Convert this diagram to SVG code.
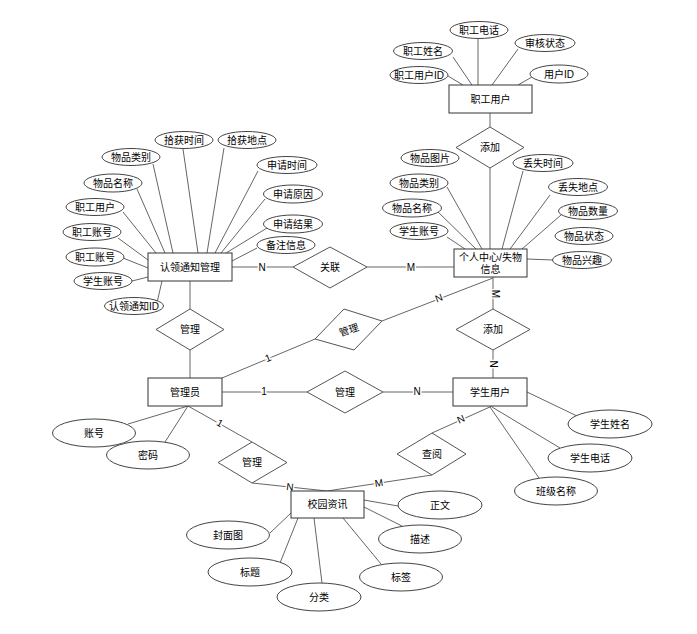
<svg xmlns="http://www.w3.org/2000/svg" width="697" height="634" viewBox="0 0 697 634">
<style>
text{font-family:"Liberation Sans","Noto Sans CJK SC",sans-serif;font-size:10px;fill:#000;text-anchor:middle;dominant-baseline:central}
.e{fill:#fff;stroke:#444;stroke-width:1}
.r{fill:#fff;stroke:#333;stroke-width:1}
.d{fill:#fff;stroke:#555;stroke-width:1}
.c line,.c polyline{stroke:#666;stroke-width:1;fill:none}
.lb{paint-order:stroke;stroke:#fff;stroke-width:3px}
</style>
<rect width="697" height="634" fill="#fff"/>
<g class="c">
<line x1="478" y1="39" x2="478" y2="85"/>
<line x1="518" y1="49" x2="492" y2="85"/>
<line x1="453" y1="57" x2="472" y2="85"/>
<line x1="448" y1="76" x2="463" y2="85"/>
<line x1="532" y1="77" x2="518" y2="85"/>
<line x1="490" y1="113" x2="490" y2="127"/>
<line x1="490" y1="168" x2="490" y2="249"/>
<line x1="447" y1="187" x2="482" y2="249"/>
<line x1="438" y1="212" x2="476" y2="249"/>
<line x1="447" y1="237" x2="465" y2="249"/>
<line x1="523" y1="171" x2="502" y2="249"/>
<line x1="550" y1="195" x2="510" y2="249"/>
<line x1="561" y1="215" x2="522" y2="249"/>
<line x1="553" y1="260" x2="527" y2="259"/>
<line x1="183" y1="149" x2="198" y2="253"/>
<line x1="224" y1="148" x2="207" y2="253"/>
<line x1="153" y1="164" x2="173" y2="253"/>
<line x1="137" y1="189" x2="165" y2="253"/>
<line x1="123" y1="212" x2="156" y2="253"/>
<line x1="118" y1="238" x2="148" y2="260"/>
<line x1="123" y1="258" x2="148" y2="268"/>
<line x1="132" y1="281" x2="148" y2="277"/>
<line x1="156" y1="307" x2="162" y2="281"/>
<line x1="258" y1="171" x2="215" y2="253"/>
<line x1="265" y1="199" x2="221" y2="253"/>
<line x1="267" y1="228" x2="226" y2="253"/>
<line x1="257" y1="248" x2="232" y2="261"/>
<line x1="232" y1="267" x2="293" y2="267"/>
<line x1="367" y1="267" x2="454" y2="267"/>
<line x1="190" y1="281" x2="190" y2="309"/>
<line x1="190" y1="350" x2="190" y2="378"/>
<line x1="222" y1="378" x2="315" y2="339"/>
<line x1="382" y1="321" x2="493" y2="278"/>
<line x1="493" y1="277" x2="493" y2="309"/>
<line x1="493" y1="350" x2="493" y2="378"/>
<line x1="222" y1="392" x2="307" y2="392"/>
<line x1="383" y1="392" x2="453" y2="392"/>
<line x1="128" y1="424" x2="188" y2="406"/>
<line x1="165" y1="442" x2="188" y2="406"/>
<line x1="188" y1="406" x2="252" y2="442"/>
<line x1="252" y1="483" x2="327" y2="491"/>
<line x1="492" y1="406" x2="432" y2="433"/>
<line x1="432" y1="475" x2="327" y2="491"/>
<line x1="527" y1="392" x2="577" y2="416"/>
<line x1="492" y1="407" x2="560" y2="448"/>
<line x1="490" y1="407" x2="539" y2="478"/>
<line x1="364" y1="500" x2="398" y2="506"/>
<line x1="364" y1="507" x2="402" y2="526"/>
<line x1="343" y1="518" x2="381" y2="564"/>
<line x1="270" y1="533" x2="291" y2="513"/>
<line x1="280" y1="563" x2="298" y2="518"/>
<line x1="322" y1="583" x2="314" y2="518"/>
<text class="lb" x="262" y="267">N</text>
<text class="lb" x="411" y="267">M</text>
<text class="lb" x="268" y="358" transform="rotate(-23 268 358)">1</text>
<text class="lb" x="439" y="298" transform="rotate(-21 439 298)">N</text>
<text class="lb" x="495" y="294" transform="rotate(90 495 294)">M</text>
<text class="lb" x="493" y="364" transform="rotate(90 493 364)">N</text>
<text class="lb" x="264" y="391">1</text>
<text class="lb" x="417" y="391">N</text>
<text class="lb" x="220" y="423" transform="rotate(29 220 423)">1</text>
<text class="lb" x="290" y="487" transform="rotate(6 290 487)">N</text>
<text class="lb" x="461" y="419" transform="rotate(-24 461 419)">N</text>
<text class="lb" x="379" y="483" transform="rotate(-8 379 483)">M</text>
</g>
<g id="staff-user"><rect class="r" x="449" y="85" width="83" height="28"/><text x="490.5" y="99">职工用户</text></g>
<g id="a-staff-phone"><ellipse class="e" cx="479" cy="30" rx="29" ry="8.5"/><text x="479" y="30">职工电话</text></g>
<g id="a-audit"><ellipse class="e" cx="545" cy="43" rx="30" ry="8.5"/><text x="545" y="43">审核状态</text></g>
<g id="a-staff-name"><ellipse class="e" cx="423" cy="51" rx="29.5" ry="8.5"/><text x="423" y="51">职工姓名</text></g>
<g id="a-staff-uid"><ellipse class="e" cx="419" cy="75" rx="29" ry="8.5"/><text x="419" y="75">职工用户ID</text></g>
<g id="a-uid"><ellipse class="e" cx="559" cy="74" rx="29" ry="9"/><text x="559" y="74">用户ID</text></g>
<g id="add-top"><polygon class="d" points="490,127 524,147.5 490,168 456,147.5"/><text x="490" y="147">添加</text></g>
<g id="lost-info"><rect class="r" x="454" y="249" width="73" height="28"/><text x="490.5" y="257">个人中心/失物</text><text x="490.5" y="269">信息</text></g>
<g id="b-img"><ellipse class="e" cx="430" cy="158" rx="29" ry="8.5"/><text x="430" y="158">物品图片</text></g>
<g id="b-cat"><ellipse class="e" cx="419" cy="183" rx="29" ry="9"/><text x="419" y="183">物品类别</text></g>
<g id="b-name"><ellipse class="e" cx="412" cy="208" rx="29.5" ry="9"/><text x="412" y="208">物品名称</text></g>
<g id="b-stu"><ellipse class="e" cx="419" cy="231" rx="29" ry="8.5"/><text x="419" y="231">学生账号</text></g>
<g id="b-time"><ellipse class="e" cx="543" cy="163" rx="30" ry="8.5"/><text x="543" y="163">丢失时间</text></g>
<g id="b-place"><ellipse class="e" cx="578" cy="187" rx="29.5" ry="8.5"/><text x="578" y="187">丢失地点</text></g>
<g id="b-qty"><ellipse class="e" cx="588" cy="211" rx="29.5" ry="8.5"/><text x="588" y="211">物品数量</text></g>
<g id="b-state"><ellipse class="e" cx="584" cy="236" rx="29" ry="8.5"/><text x="584" y="236">物品状态</text></g>
<g id="b-interest"><ellipse class="e" cx="582" cy="260" rx="29.5" ry="8.5"/><text x="582" y="260">物品兴趣</text></g>
<g id="claim"><rect class="r" x="148" y="253" width="84" height="28"/><text x="190" y="267">认领通知管理</text></g>
<g id="c-ftime"><ellipse class="e" cx="184" cy="140" rx="29" ry="8.5"/><text x="184" y="140">拾获时间</text></g>
<g id="c-fplace"><ellipse class="e" cx="247" cy="140" rx="29" ry="8.5"/><text x="247" y="140">拾获地点</text></g>
<g id="c-cat"><ellipse class="e" cx="131" cy="157" rx="29" ry="8.5"/><text x="131" y="157">物品类别</text></g>
<g id="c-name"><ellipse class="e" cx="113" cy="183" rx="29" ry="9"/><text x="113" y="183">物品名称</text></g>
<g id="c-staff"><ellipse class="e" cx="95" cy="207" rx="29" ry="8.5"/><text x="95" y="207">职工用户</text></g>
<g id="c-acc1"><ellipse class="e" cx="92" cy="232" rx="29" ry="8.5"/><text x="92" y="232">职工账号</text></g>
<g id="c-acc2"><ellipse class="e" cx="95" cy="257" rx="29" ry="9"/><text x="95" y="257">职工账号</text></g>
<g id="c-stu"><ellipse class="e" cx="103" cy="281" rx="29" ry="8.5"/><text x="103" y="281">学生账号</text></g>
<g id="c-id"><ellipse class="e" cx="134" cy="306" rx="29.5" ry="8.5"/><text x="134" y="306">认领通知ID</text></g>
<g id="c-atime"><ellipse class="e" cx="287" cy="165" rx="30" ry="8.5"/><text x="287" y="165">申请时间</text></g>
<g id="c-reason"><ellipse class="e" cx="293" cy="194" rx="29.5" ry="9"/><text x="293" y="194">申请原因</text></g>
<g id="c-result"><ellipse class="e" cx="293" cy="224" rx="29.5" ry="9"/><text x="293" y="224">申请结果</text></g>
<g id="c-note"><ellipse class="e" cx="286" cy="245" rx="29" ry="8.5"/><text x="286" y="245">备注信息</text></g>
<g id="rel-link"><polygon class="d" points="330,247 367,267 330,288 293,267"/><text x="330" y="267">关联</text></g>
<g id="rel-manage1"><polygon class="d" points="190,309 224,329.5 190,350 156,329.5"/><text x="190" y="329">管理</text></g>
<g id="rel-manage2"><polygon class="d" points="344,309 382,321 354,350 315,339"/><text x="349" y="330" transform="rotate(-18 349 330)">管理</text></g>
<g id="add-bottom"><polygon class="d" points="493,309 530,329.5 493,350 456,329.5"/><text x="493" y="329">添加</text></g>
<g id="admin"><rect class="r" x="148" y="378" width="74" height="28"/><text x="185" y="392">管理员</text></g>
<g id="student"><rect class="r" x="453" y="378" width="74" height="28"/><text x="490" y="392">学生用户</text></g>
<g id="rel-manage3"><polygon class="d" points="345,371 383,392 345,413 307,392"/><text x="345" y="392">管理</text></g>
<g id="d-acc"><ellipse class="e" cx="94" cy="433" rx="41.5" ry="14"/><text x="94" y="433">账号</text></g>
<g id="d-pwd"><ellipse class="e" cx="148" cy="455" rx="41.5" ry="14"/><text x="148" y="455">密码</text></g>
<g id="rel-manage4"><polygon class="d" points="252,442 287,462.5 252,483 218,462.5"/><text x="252" y="462">管理</text></g>
<g id="rel-view"><polygon class="d" points="432,433 466,454 432,475 397,454"/><text x="432" y="454">查阅</text></g>
<g id="news"><rect class="r" x="291" y="491" width="73" height="27"/><text x="327.5" y="504.5">校园资讯</text></g>
<g id="s-name"><ellipse class="e" cx="610" cy="424" rx="42" ry="14"/><text x="610" y="424">学生姓名</text></g>
<g id="s-phone"><ellipse class="e" cx="590" cy="458" rx="42" ry="14"/><text x="590" y="458">学生电话</text></g>
<g id="s-class"><ellipse class="e" cx="556" cy="491" rx="41.5" ry="14"/><text x="556" y="491">班级名称</text></g>
<g id="n-body"><ellipse class="e" cx="440" cy="505" rx="42" ry="14"/><text x="440" y="505">正文</text></g>
<g id="n-desc"><ellipse class="e" cx="420" cy="539" rx="41.5" ry="14"/><text x="420" y="539">描述</text></g>
<g id="n-tag"><ellipse class="e" cx="401" cy="577" rx="41.5" ry="14"/><text x="401" y="577">标签</text></g>
<g id="n-cover"><ellipse class="e" cx="228" cy="535" rx="41.5" ry="14"/><text x="228" y="535">封面图</text></g>
<g id="n-title"><ellipse class="e" cx="250" cy="572" rx="42" ry="14"/><text x="250" y="572">标题</text></g>
<g id="n-cat"><ellipse class="e" cx="319" cy="597" rx="42" ry="14"/><text x="319" y="597">分类</text></g>
</svg>
